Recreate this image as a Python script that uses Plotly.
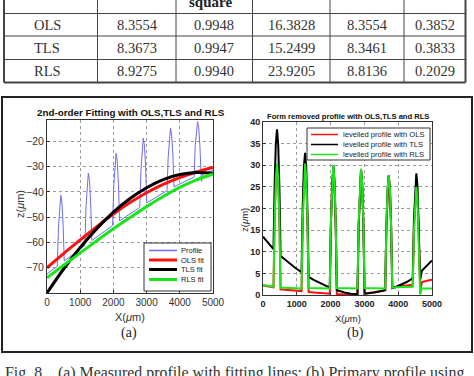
import plotly.graph_objects as go

W, H = 474, 376
def px(x): return x / W
def py(y): return 1 - y / H

# ---------------- table data ----------------
methods = ["OLS", "TLS", "RLS"]
col_a = [8.3554, 8.3673, 8.9275]
col_b = [0.9948, 0.9947, 0.9940]
col_c = [16.3828, 15.2499, 23.9205]
col_d = [8.3554, 8.3461, 8.8136]
col_e = [0.3852, 0.3833, 0.2029]
header_visible = "square"

# ---------------- figure (a) data ----------------
fit_x = [0, 500, 1000, 1500, 2000, 2500, 3000, 3500, 4000, 4500, 5000]
ols_fit = [-70.0, -64.4, -59.0, -53.7, -48.7, -44.2, -40.3, -37.0, -34.3, -32.1, -30.3]
tls_fit = [-80.0, -70.5, -62.0, -54.5, -48.0, -42.6, -38.3, -35.1, -33.1, -32.3, -32.6]
rls_fit = [-74.0, -69.0, -64.1, -59.3, -54.6, -50.1, -45.8, -41.8, -38.2, -35.2, -32.9]

prof_x = [0, 150, 280,
          310, 345, 380, 415, 450, 485, 520,
          650, 800, 950, 1100,
          1140, 1175, 1210, 1245, 1280, 1315, 1350,
          1500, 1650, 1800, 1950,
          1975, 2010, 2045, 2080, 2115, 2150, 2185,
          2300, 2450, 2600, 2750,
          2795, 2830, 2865, 2900, 2935, 2970, 3005,
          3150, 3300, 3450, 3580,
          3615, 3650, 3685, 3720, 3755, 3790, 3825,
          3950, 4100, 4250, 4400,
          4430, 4465, 4500, 4535, 4570, 4605, 4650,
          4700, 4850, 5000]
profile_z = [-72.5, -71.0, -69.7,
             -69.4, -54.2, -44.9, -41.3, -44.3, -52.9, -67.3,
             -66.0, -64.6, -63.1, -61.6,
             -61.2, -45.7, -36.1, -32.5, -35.5, -44.3, -59.2,
             -57.8, -56.4, -54.9, -53.6,
             -53.3, -37.8, -28.3, -24.7, -27.7, -36.5, -51.4,
             -50.4, -49.1, -47.7, -46.5,
             -46.1, -31.2, -22.2, -18.7, -21.6, -30.0, -44.3,
             -43.1, -41.9, -40.7, -39.7,
             -39.5, -26.1, -17.9, -14.7, -17.4, -25.0, -38.0,
             -37.1, -36.1, -35.2, -34.3,
             -34.1, -21.6, -14.7, -12.1, -14.5, -21.6, -35.8,
             -32.8, -32.1, -31.4]

# ---------------- figure (b) data ----------------
lev_ols = [2.2, 2.0, 1.8,
           1.8, 17.3, 26.6, 30.0, 26.5, 17.0, 1.3,
           1.2, 1.1, 1.0, 0.9,
           0.9, 16.7, 26.2, 29.6, 26.0, 16.5, 0.7,
           0.6, 0.5, 0.4, 0.3,
           0.3, 16.3, 26.0, 29.4, 25.9, 16.2, 0.2,
           0.2, 0.1, 0.1, 0.1,
           0.1, 15.9, 25.4, 29.0, 25.5, 16.0, 0.3,
           0.5, 0.7, 0.9, 1.0,
           1.1, 15.6, 24.3, 27.6, 24.6, 16.1, 1.8,
           2.0, 2.1, 2.2, 2.4,
           2.4, 15.2, 22.7, 25.6, 22.9, 15.5, 0.6,
           3.0, 3.3, 3.5]
lev_tls = [13.5, 12.0, 10.9,
           10.6, 26.0, 35.1, 38.3, 34.7, 25.0, 9.0,
           8.2, 7.2, 6.3, 5.5,
           5.3, 20.6, 29.7, 32.9, 29.4, 19.9, 4.2,
           3.5, 2.9, 2.3, 1.8,
           1.7, 17.2, 26.5, 30.0, 26.3, 16.8, 1.1,
           0.8, 0.5, 0.3, 0.2,
           0.2, 16.0, 25.5, 29.0, 25.6, 16.1, 0.3,
           0.4, 0.6, 0.8, 1.0,
           1.1, 15.6, 24.4, 27.6, 24.5, 15.9, 1.6,
           1.9, 2.4, 3.0, 3.7,
           3.9, 17.1, 25.1, 28.1, 25.3, 17.5, 3.5,
           5.6, 6.8, 8.0]
lev_rls = [2.3, 2.1, 1.9,
           1.9, 17.6, 27.0, 30.4, 27.0, 17.4, 1.7,
           1.7, 1.6, 1.6, 1.5,
           1.5, 17.4, 26.9, 30.4, 27.0, 17.5, 1.6,
           1.6, 1.5, 1.5, 1.5,
           1.5, 17.2, 26.6, 30.1, 26.7, 17.3, 1.6,
           1.6, 1.5, 1.5, 1.5,
           1.5, 16.7, 25.8, 29.2, 25.9, 16.8, 1.6,
           1.6, 1.5, 1.5, 1.5,
           1.5, 15.8, 24.5, 27.6, 24.5, 15.9, 1.7,
           1.8, 1.8, 1.8, 1.9,
           1.9, 14.6, 22.2, 25.0, 22.2, 14.6, 0.1,
           1.5, 1.5, 1.5]

x_ticks = [0, 1000, 2000, 3000, 4000, 5000]
ya_ticks = [-70, -60, -50, -40, -30, -20]
yb_ticks = [0, 5, 10, 15, 20, 25, 30, 35, 40]

names_a = ["Profile", "OLS fit", "TLS fit", "RLS fit"]
names_b = ["levelled profile with OLS", "levelled profile with TLS", "levelled profile with RLS"]

C_PROF = "#6f6cf0"
C_RED = "#ff1010"
C_BLK = "#000000"
C_GRN = "#19e619"

fig = go.Figure()
fig.add_trace(go.Scatter(x=prof_x, y=profile_z, mode="lines", name=names_a[0],
                         line=dict(color=C_PROF, width=1), xaxis="x", yaxis="y"))
fig.add_trace(go.Scatter(x=fit_x, y=ols_fit, mode="lines", name=names_a[1],
                         line=dict(color=C_RED, width=3, shape="spline"), xaxis="x", yaxis="y"))
fig.add_trace(go.Scatter(x=fit_x, y=tls_fit, mode="lines", name=names_a[2],
                         line=dict(color=C_BLK, width=3, shape="spline"), xaxis="x", yaxis="y"))
fig.add_trace(go.Scatter(x=fit_x, y=rls_fit, mode="lines", name=names_a[3],
                         line=dict(color=C_GRN, width=3, shape="spline"), xaxis="x", yaxis="y"))

fig.add_trace(go.Scatter(x=prof_x, y=lev_ols, mode="lines", name=names_b[0],
                         line=dict(color=C_RED, width=2), xaxis="x2", yaxis="y2"))
fig.add_trace(go.Scatter(x=prof_x, y=lev_tls, mode="lines", name=names_b[1],
                         line=dict(color=C_BLK, width=2), xaxis="x2", yaxis="y2"))
fig.add_trace(go.Scatter(x=prof_x, y=lev_rls, mode="lines", name=names_b[2],
                         line=dict(color=C_GRN, width=2), xaxis="x2", yaxis="y2"))

axis_common = dict(showline=True, mirror=True, linecolor="#333", linewidth=1,
                   ticks="inside", ticklen=3, tickcolor="#333",
                   showgrid=True, gridcolor="#9a9a9a", griddash="dot", gridwidth=1,
                   zeroline=False, automargin=False)

fig.update_layout(
    width=W, height=H, margin=dict(l=0, r=0, t=0, b=0),
    paper_bgcolor="white", plot_bgcolor="white", showlegend=False,
    template="none",
    xaxis=dict(domain=[px(47), px(213)], range=[0, 5000], tickvals=x_ticks, anchor="y",
               tickfont=dict(family="Liberation Sans", size=10, color="#333"), **axis_common),
    yaxis=dict(domain=[py(293), py(120)], range=[-80, -11.5], tickvals=ya_ticks, anchor="x",
               tickfont=dict(family="Liberation Sans", size=10.5, color="#333"), **axis_common),
    xaxis2=dict(domain=[px(263), px(432)], range=[0, 5000], tickvals=x_ticks, anchor="y2",
                tickfont=dict(family="Liberation Sans", size=9, color="#222", weight="bold"), **axis_common),
    yaxis2=dict(domain=[py(295), py(122)], range=[0, 40], tickvals=yb_ticks, anchor="x2",
                tickfont=dict(family="Liberation Sans", size=9, color="#222", weight="bold"), **axis_common),
)

shapes = []
annotations = []

def ann(x, y, text, size, family="Liberation Sans", color="#222", bold=False,
        xanchor="center", yanchor="middle", angle=0):
    annotations.append(dict(x=px(x), y=py(y), xref="paper", yref="paper", text=text,
                            showarrow=False, xanchor=xanchor, yanchor=yanchor, textangle=angle,
                            font=dict(family=family, size=size, color=color,
                                      weight="bold" if bold else "normal")))

def hline(x0, x1, y, color="#444", width=1):
    shapes.append(dict(type="line", xref="paper", yref="paper", x0=px(x0), x1=px(x1),
                       y0=py(y), y1=py(y), line=dict(color=color, width=width)))

def vline(x, y0, y1, color="#444", width=1):
    shapes.append(dict(type="line", xref="paper", yref="paper", x0=px(x), x1=px(x),
                       y0=py(y0), y1=py(y1), line=dict(color=color, width=width)))

# ---------------- table ----------------
col_lines = [4, 97.5, 176, 252.5, 330, 404, 465.5]
row_lines = [13.5, 36, 59.5, 82.5]
for i, xl in enumerate(col_lines):
    vline(xl, -2, 82.5, width=2 if i in (0, len(col_lines) - 1) else 1)
for i, yl in enumerate(row_lines):
    hline(4, 465.5, yl, width=2 if i == len(row_lines) - 1 else 1)
ann(210, 1.5, header_visible, 15, family="Liberation Serif", bold=True, color="#222")
row_y = [25, 48, 71]
col_cx = [47, 137, 214, 291, 367, 435]
for r in range(3):
    vals = [methods[r], f"{col_a[r]:.4f}", f"{col_b[r]:.4f}", f"{col_c[r]:.4f}",
            f"{col_d[r]:.4f}", f"{col_e[r]:.4f}"]
    for c, v in enumerate(vals):
        ann(col_cx[c], row_y[r], v, 14.5, family="Liberation Serif", color="#333")

# ---------------- figure frame ----------------
shapes.append(dict(type="rect", xref="paper", yref="paper", x0=px(2), x1=px(472),
                   y0=py(352), y1=py(97), line=dict(color="#222", width=2)))

# titles and labels
ann(130.5, 112.5, "2nd-order Fitting with OLS,TLS and RLS", 9.8, bold=True, color="#111")
ann(347.5, 116, "Form removed profile with OLS,TLS and RLS", 7.6, bold=True, color="#111")
ann(130, 317, "X(<i>μ</i>m)", 11, color="#333")
ann(347.5, 318, "X(<i>μ</i>m)", 9.5, color="#222")
ann(20, 204, "z(<i>μ</i>m)", 11, color="#333", angle=-90)
ann(244, 220, "z(<i>μ</i>m)", 9.5, color="#222", angle=-90)
ann(129, 333, "(a)", 14, family="Liberation Serif", color="#222")
ann(355, 333, "(b)", 14, family="Liberation Serif", color="#222")

# legend (a)
shapes.append(dict(type="rect", xref="paper", yref="paper", x0=px(144), x1=px(211),
                   y0=py(291), y1=py(243), line=dict(color="#333", width=1), fillcolor="white"))
leg_a_y = [250.5, 260, 269.5, 279.5]
leg_a_col = [C_PROF, C_RED, C_BLK, C_GRN]
leg_a_w = [1.5, 3, 3, 3]
for yy, cc, ww, nm in zip(leg_a_y, leg_a_col, leg_a_w, names_a):
    hline(149, 177, yy, color=cc, width=ww)
    ann(178.5, yy, nm, 7.5, color="#222", xanchor="left")

# legend (b)
shapes.append(dict(type="rect", xref="paper", yref="paper", x0=px(307), x1=px(430),
                   y0=py(160), y1=py(128), line=dict(color="#333", width=1), fillcolor="white"))
leg_b_y = [134.5, 144.5, 154.5]
leg_b_col = [C_RED, C_BLK, C_GRN]
for yy, cc, nm in zip(leg_b_y, leg_b_col, names_b):
    hline(311, 338, yy, color=cc, width=1.5)
    ann(341, yy, nm, 7.6, color="#222", xanchor="left")

# caption
ann(3, 373, "Fig. 8.&nbsp;&nbsp;&nbsp;(a) Measured profile with fitting lines; (b) Primary profile using",
    15.9, family="Liberation Serif", color="#333", xanchor="left")

fig.update_layout(shapes=shapes, annotations=annotations)
fig.write_html("out.html", config={"displayModeBar": False},
               post_script="document.body.style.margin='0';document.body.style.overflow='hidden';")
